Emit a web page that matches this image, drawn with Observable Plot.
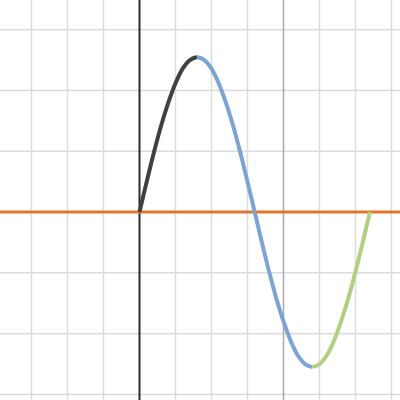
<!DOCTYPE html>
<html>
<head>
<meta charset="utf-8">
<script src="https://cdn.jsdelivr.net/npm/d3@7"></script>
<script src="https://cdn.jsdelivr.net/npm/@observablehq/plot@0.6"></script>
<style>
  html, body { margin: 0; padding: 0; background: #fff; }
  #chart svg { display: block; }
</style>
</head>
<body>
<div id="chart"></div>
<script>
// Grid positions (data units)
const xGrid = [-3, -2, -1, 1, 2, 3, 5, 6, 7];
const xMajor = [4];
const yGrid = [-3, -2, -1, 1, 2, 3];

// Curve samples
const xs = [0, 0.2, 0.4, 0.6, 0.8, 1.0, 1.2, 1.4, 1.6, 1.8, 2.0, 2.2, 2.4, 2.6, 2.8, 3.0, 3.2,
            3.4, 3.6, 3.8, 4.0, 4.2, 4.4, 4.6, 4.8, 5.0, 5.2, 5.4, 5.6, 5.8, 6.0, 6.2, 6.4];
const ys = [0, 0.50, 0.98, 1.42, 1.80, 2.12, 2.36, 2.50, 2.55, 2.50, 2.36, 2.12, 1.80, 1.42, 0.98, 0.50, 0,
            -0.50, -0.98, -1.42, -1.80, -2.12, -2.36, -2.50, -2.55, -2.50, -2.36, -2.12, -1.80, -1.42, -0.98, -0.50, 0];

// Segment boundaries (indices into xs): rise, fall, rise
const segments = [
  {name: "rise", from: 0, to: 8, color: "#404040"},
  {name: "fall", from: 8, to: 24, color: "#7BA4D5"},
  {name: "end", from: 24, to: 32, color: "#B2CF80"}
];

const points = xs.map((x, i) => ({x, y: ys[i]}));

const marks = [
  Plot.ruleX(xGrid, {stroke: "#dcdcdc", strokeWidth: 1.5}),
  Plot.ruleY(yGrid, {stroke: "#dcdcdc", strokeWidth: 1.5}),
  Plot.ruleX(xMajor, {stroke: "#a9a9a9", strokeWidth: 1.5}),
  Plot.ruleX([0], {stroke: "#2a2a2a", strokeWidth: 2}),
  Plot.ruleY([0], {stroke: "#E0772E", strokeWidth: 3})
];
for (const s of segments) {
  marks.push(Plot.line(points.slice(s.from, s.to + 1), {
    x: "x", y: "y", stroke: s.color, strokeWidth: 4, curve: "catmull-rom",
    strokeLinecap: "butt", strokeLinejoin: "round"
  }));
}

const chart = Plot.plot({
  width: 400,
  height: 400,
  margin: 0,
  x: {domain: [-3.861, 7.25], axis: null},
  y: {domain: [-3.10, 3.48], axis: null},
  marks
});
document.getElementById("chart").appendChild(chart);
</script>
</body>
</html>
